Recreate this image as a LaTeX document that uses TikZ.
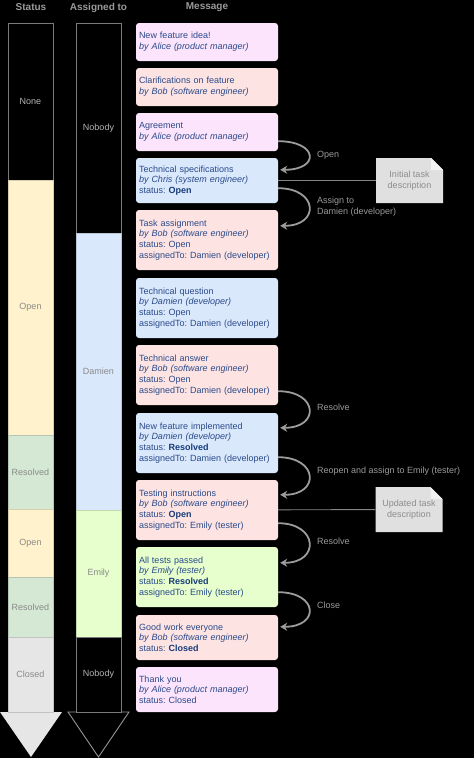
\documentclass[tikz,border=0pt]{standalone}
\usepackage{fontspec}
\setmainfont{Liberation Sans}
\usetikzlibrary{calc,arrows.meta}
\frenchspacing
\definecolor{hdrgray}{HTML}{9A9A9A}
\definecolor{secgray}{HTML}{8A8A8A}
\definecolor{darkgray2}{HTML}{B5B5B5}
\definecolor{colborder}{HTML}{7A7A7A}
\definecolor{openY}{HTML}{FFF2CC}
\definecolor{resG}{HTML}{D5E8D4}
\definecolor{closedG}{HTML}{E6E6E6}
\definecolor{damB}{HTML}{DAE8FC}
\definecolor{emiG}{HTML}{E6FFCC}
\definecolor{lav}{HTML}{FCE4FC}
\definecolor{pink}{HTML}{FDE4E3}
\definecolor{msgblue}{HTML}{2A4A8A}
\definecolor{msgbold}{HTML}{163B78}
\definecolor{flowgray}{HTML}{9C9C9C}
\definecolor{lblgray}{HTML}{9A9A9A}
\definecolor{notefill}{HTML}{E0E0E0}
\definecolor{foldfill}{HTML}{F2F2F2}
\definecolor{notetext}{HTML}{8C8C8C}
\definecolor{linkgray}{HTML}{858585}
\tikzset{
  hdr/.style={font=\fontsize{10}{12}\selectfont\bfseries, text=hdrgray, inner sep=0pt},
  sec/.style={minimum width=45pt, inner sep=0pt, font=\fontsize{9}{11}\selectfont, text=secgray, draw=#1!85!black, fill=#1, line width=0.6pt},
  blk/.style={minimum width=45pt, inner sep=0pt, font=\fontsize{9}{11}\selectfont, text=darkgray2, draw=colborder, fill=black, line width=0.8pt},
  msg/.style={rounded corners=3pt, fill=#1, text width=136pt, inner xsep=3pt, inner ysep=0pt, align=left, font=\fontsize{9}{10.7}\selectfont, text=msgblue, minimum width=142pt},
  flow/.style={draw=flowgray, line width=1.8pt, -{Stealth[length=7pt,width=8pt]}},
  lbl/.style={font=\fontsize{9}{10.7}\selectfont, text=lblgray, inner sep=0pt, anchor=west, align=left},
  link/.style={draw=linkgray, line width=0.9pt},
  notebox/.style={minimum width=67pt, minimum height=45pt, inner sep=0pt, align=center, font=\fontsize{9}{10.7}\selectfont, text=notetext,
    path picture={
      \fill[notefill] (path picture bounding box.south west) -- (path picture bounding box.north west)
        -- ([xshift=-12pt]path picture bounding box.north east) -- ([yshift=-12pt]path picture bounding box.north east)
        -- (path picture bounding box.south east) -- cycle;
      \fill[foldfill] ([xshift=-12pt]path picture bounding box.north east) -- ([xshift=-12pt,yshift=-12pt]path picture bounding box.north east)
        -- ([yshift=-12pt]path picture bounding box.north east) -- cycle;
    }},
}
\newcommand{\bb}[1]{\textbf{\color{msgbold}#1}}
\begin{document}
\begin{tikzpicture}[x=1pt,y=-1pt]
\fill[black] (0,0) rectangle (474,758);
\useasboundingbox (0,0) rectangle (474,758);

% headers
\node[hdr] (h1) at (31,7.5) {Status};
\node[hdr] (h2) at (98.5,7.5) {Assigned to};
\node[hdr] (h3) at (207,7.5) {Message};

% big arrow heads
\fill[closedG] (0,712) -- (62,712) -- (31,757) -- cycle;
\draw[colborder!80!white, line width=0.9pt, fill=black] (68,712) -- (129,712) -- (98.5,757) -- cycle;

% status column
\node[blk, minimum height=157pt] (s1) at (30.5,101.5) {None};
\node[sec=openY, minimum height=255pt] (s2) at (30.5,307.5) {Open};
\node[sec=resG, minimum height=74pt] (s3) at (30.5,472) {Resolved};
\node[sec=openY, minimum height=68pt] (s4) at (30.5,543) {Open};
\node[sec=resG, minimum height=60pt] (s5) at (30.5,607) {Resolved};
\node[sec=closedG, minimum height=75pt] (s6) at (30.5,674.5) {Closed};

% assigned column
\node[blk, minimum height=210pt] (a1) at (98.5,128) {Nobody};
\node[sec=damB, minimum height=277pt] (a2) at (98.5,371.5) {Damien};
\node[sec=emiG, minimum height=127pt] (a3) at (98.5,573.5) {Emily};
\node[blk, minimum height=75pt] (a4) at (98.5,674.5) {Nobody};

% messages
\node[msg=lav, minimum height=38pt] (m1) at (207,42) {New feature idea!\\\textit{by Alice (product manager)}};
\node[msg=pink, minimum height=38pt] (m2) at (207,87) {Clarifications on feature\\\textit{by Bob (software engineer)}};
\node[msg=lav, minimum height=38pt] (m3) at (207,132) {Agreement\\\textit{by Alice (product manager)}};
\node[msg=damB, minimum height=45pt] (m4) at (207,180.5) {Technical specifications\\\textit{by Chris (system engineer)}\\status: \bb{Open}};
\node[msg=pink, minimum height=60pt] (m5) at (207,240) {Task assignment\\\textit{by Bob (software engineer)}\\status: Open\\assignedTo: Damien (developer)};
\node[msg=damB, minimum height=60pt] (m6) at (207,308) {Technical question\\\textit{by Damien (developer)}\\status: Open\\assignedTo: Damien (developer)};
\node[msg=pink, minimum height=60pt] (m7) at (207,375) {Technical answer\\\textit{by Bob (software engineer)}\\status: Open\\assignedTo: Damien (developer)};
\node[msg=damB, minimum height=60pt] (m8) at (207,443) {New feature implemented\\\textit{by Damien (developer)}\\status: \bb{Resolved}\\assignedTo: Damien (developer)};
\node[msg=pink, minimum height=60pt] (m9) at (207,510) {Testing instructions\\\textit{by Bob (software engineer)}\\status: \bb{Open}\\assignedTo: Emily (tester)};
\node[msg=emiG, minimum height=60pt] (m10) at (207,577) {All tests passed\\\textit{by Emily (tester)}\\status: \bb{Resolved}\\assignedTo: Emily (tester)};
\node[msg=pink, minimum height=45pt] (m11) at (207,637.5) {Good work everyone\\\textit{by Bob (software engineer)}\\status: \bb{Closed}};
\node[msg=lav, minimum height=45pt] (m12) at (207,689.5) {Thank you\\\textit{by Alice (product manager)}\\status: Closed};

% notes
\node[notebox] (n1) at (409.5,180.5) {Initial task\\description};
\node[notebox] (n2) at (409,509.5) {Updated task\\description};
\draw[link] (m4) -- (n1);
\draw[link] (m9) -- (n2);

% transitions
\draw[flow] ($(m3.south east)+(0,-10)$) .. controls +(40,0) and +(40,0) .. ($(m4.north east)+(2,12)$)
  node[lbl, pos=0.5, xshift=7pt] {Open};
\draw[flow] ($(m4.south east)+(0,-15)$) .. controls +(40,0) and +(40,0) .. ($(m5.north east)+(2,16)$)
  node[lbl, pos=0.5, xshift=7pt] {Assign to\\Damien (developer)};
\draw[flow] ($(m7.south east)+(0,-14)$) .. controls +(40,0) and +(40,0) .. ($(m8.north east)+(2,15)$)
  node[lbl, pos=0.5, xshift=7pt, yshift=2.5pt] {Resolve};
\draw[flow] ($(m8.south east)+(0,-16)$) .. controls +(40,0) and +(40,0) .. ($(m9.north east)+(2,15)$)
  node[lbl, pos=0.5, xshift=7pt, yshift=5pt] {Reopen and assign to Emily (tester)};
\draw[flow] ($(m9.south east)+(0,-17)$) .. controls +(40,0) and +(40,0) .. ($(m10.north east)+(2,16)$)
  node[lbl, pos=0.5, xshift=7pt, yshift=2pt] {Resolve};
\draw[flow] ($(m10.south east)+(0,-15)$) .. controls +(40,0) and +(40,0) .. ($(m11.north east)+(2,12)$)
  node[lbl, pos=0.5, xshift=7pt, yshift=4.5pt] {Close};
\end{tikzpicture}
\end{document}
